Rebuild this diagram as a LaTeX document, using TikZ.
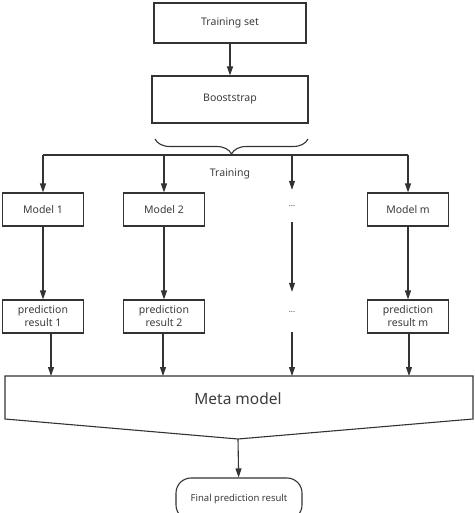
\documentclass[tikz,border=0pt]{standalone}
\usepackage{fontspec}
\setmainfont{Noto Sans}
\usetikzlibrary{arrows.meta,decorations.pathreplacing}

\definecolor{lineg}{HTML}{333333}
\definecolor{textg}{HTML}{3c3c3c}

\begin{document}
\begin{tikzpicture}[x=1pt, y=-1pt,
    line/.style={draw=lineg, line width=1.1pt},
    arr/.style={line, -{Triangle[length=9pt, width=6pt]}},
    box/.style={line, fill=white, text=textg, align=center, inner sep=1pt,
        font=\fontsize{10.5}{13}\selectfont},
    dots/.style={text=textg, inner sep=0pt, font=\fontsize{8}{8}\selectfont}]
\useasboundingbox (0,0) rectangle (474,513);
\clip (0,0) rectangle (474,513);

% Top part
\node[box, minimum width=152pt, minimum height=40pt] (train) at (230,23) {Training set};
\node[box, minimum width=156pt, minimum height=47pt] (boot) at (230,99.5) {Booststrap};
\draw[arr] (train) -- (boot);
\draw[line, decorate, decoration={brace, mirror, amplitude=15pt}] (155,139) -- (308,139);

% Bus line
\coordinate (bus) at (230,155);
\draw[line] (43,155) -- (408,155);
\node[text=textg, font=\fontsize{10.5}{12}\selectfont] (trainlbl) at (230,174) {Training};

% Model columns
\foreach \name/\x/\off/\mtext/\ptext in {
    1/43/51/Model 1/prediction\\result 1,
    2/164/163/Model 2/prediction\\result 2,
    m/408/409/Model m/prediction\\result m
} {
    \node[box, minimum width=81pt, minimum height=33pt] (m\name) at (\x,209.5) {\mtext};
    \node[box, minimum width=81pt, minimum height=33pt] (p\name) at (\x,316.5) {\ptext};
    \coordinate (in\name) at (\off,376);
    \draw[arr] (m\name.north |- bus) -- (m\name.north);
    \draw[arr] (m\name) -- (p\name);
    \draw[arr] (p\name.south -| in\name) -- (in\name);
}

% Dots column
\node[dots, minimum height=32pt] (d1) at (292,206) {...};
\node[dots, minimum height=40pt] (d2) at (292,312) {...};
\coordinate (ind) at (292,376);
\draw[arr] (d1.north |- bus) -- (d1.north);
\draw[arr] (d1) -- (d2);
\draw[arr] (d2) -- (ind);

% Meta model
\draw[line, fill=white] (5,376) -- (473,376) -- (473,419) -- (238,439) coordinate (mtip)
    -- (5,419) -- cycle;
\node[text=textg, font=\fontsize{15.5}{18}\selectfont] (meta) at (238,399) {Meta model};

% Final result
\node[box, rounded corners=15pt, minimum width=126pt, minimum height=42pt,
    font=\fontsize{9.5}{11}\selectfont] (final) at (239,499) {Final prediction result};
\draw[arr] (mtip) -- (final);
\end{tikzpicture}
\end{document}
